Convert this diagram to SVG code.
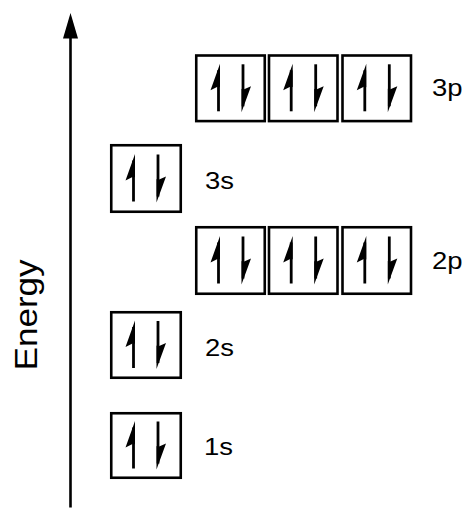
<svg xmlns="http://www.w3.org/2000/svg" xmlns:xlink="http://www.w3.org/1999/xlink" width="474" height="523" viewBox="0 0 474 523">
<style>
.box{fill:none;stroke:#000;stroke-width:2.6}
.shaft{stroke:#000;stroke-width:2.8;fill:none}
.head{fill:#000;stroke:none}
.lbl{font-family:"Liberation Sans",Arial,sans-serif;font-size:24.5px;fill:#000}
.axis{stroke:#000;stroke-width:2.6;fill:none}
</style>
<defs>
<g id="pair">
<line class="shaft" x1="23.5" y1="-18" x2="23.5" y2="23"/>
<polygon class="head" points="25,-24.5 25,-1 23.5,-2 15.5,2"/>
<line class="shaft" x1="48" y1="-24" x2="48" y2="18"/>
<polygon class="head" points="46.5,24 46.5,0.5 48,1.5 56,-2"/>
</g>
</defs>
<rect width="474" height="523" fill="#fff"/>
<g id="connectors">
<line class="axis" x1="70.5" y1="36" x2="70.5" y2="507.5"/>
<polygon class="head" points="70.5,13 63,38.5 78,38.5"/>
</g>
<g id="energy-label">
<text class="lbl" style="font-size:30.5px" transform="translate(37,370.5) rotate(-90) scale(1.15,1)">Energy</text>
</g>
<g id="orbital-3p">
<rect class="box" x="196.25" y="55.5" width="68.5" height="65.6"/>
<rect class="box" x="269" y="55.5" width="68.5" height="65.6"/>
<rect class="box" x="342.5" y="55.5" width="68.5" height="65.6"/>
<use xlink:href="#pair" transform="translate(195,88.3)"/>
<use xlink:href="#pair" transform="translate(267.7,88.3)"/>
<use xlink:href="#pair" transform="translate(341.3,88.3)"/>
<text class="lbl" transform="translate(432,95.5) scale(1.12,1)">3p</text>
</g>
<g id="orbital-3s">
<rect class="box" x="111.25" y="145.25" width="69.5" height="66.5"/>
<use xlink:href="#pair" transform="translate(110,178.5)"/>
<text class="lbl" transform="translate(205,188.5) scale(1.12,1)">3s</text>
</g>
<g id="orbital-2p">
<rect class="box" x="196.25" y="227.25" width="68.5" height="66.5"/>
<rect class="box" x="269" y="227.25" width="68.5" height="66.5"/>
<rect class="box" x="342.5" y="227.25" width="68.5" height="66.5"/>
<use xlink:href="#pair" transform="translate(195,260.5)"/>
<use xlink:href="#pair" transform="translate(267.7,260.5)"/>
<use xlink:href="#pair" transform="translate(341.3,260.5)"/>
<text class="lbl" transform="translate(432,268.5) scale(1.12,1)">2p</text>
</g>
<g id="orbital-2s">
<rect class="box" x="111.25" y="312.25" width="69.5" height="65.5"/>
<use xlink:href="#pair" transform="translate(110,345)"/>
<text class="lbl" transform="translate(205,356.3) scale(1.12,1)">2s</text>
</g>
<g id="orbital-1s">
<rect class="box" x="111.25" y="413.25" width="69.5" height="64.5"/>
<use xlink:href="#pair" transform="translate(110,445.5)"/>
<text class="lbl" transform="translate(204,455.3) scale(1.12,1)">1s</text>
</g>
</svg>
